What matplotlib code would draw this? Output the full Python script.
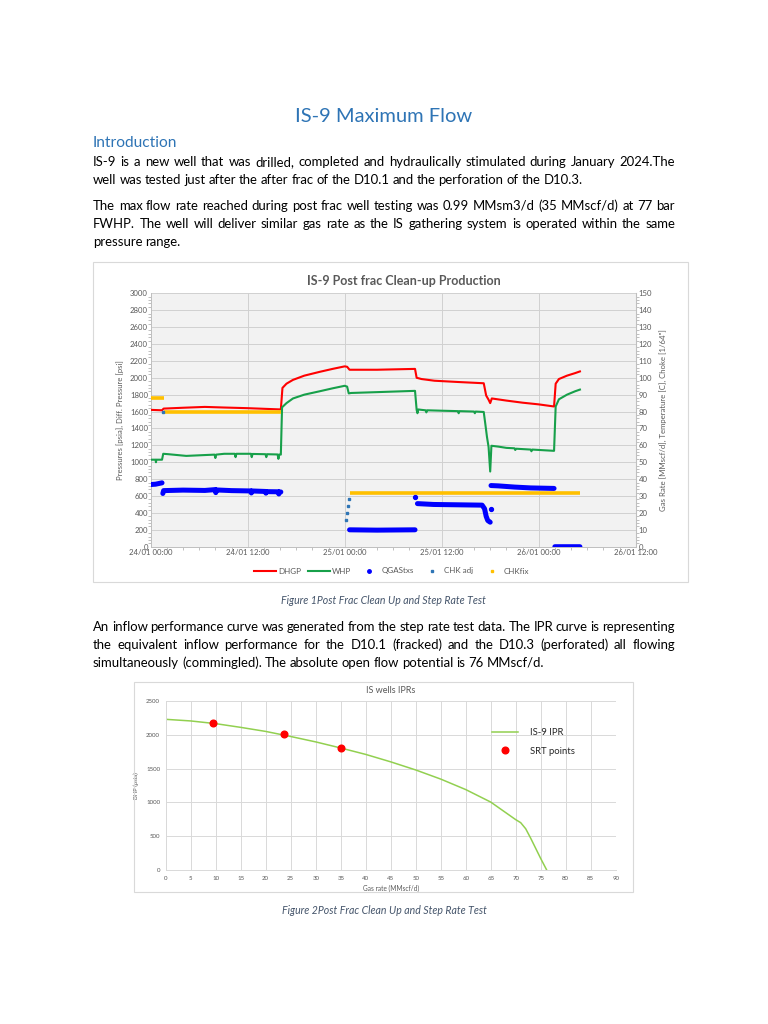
import numpy as np
import matplotlib
matplotlib.use("Agg")
import matplotlib.pyplot as plt
from matplotlib.lines import Line2D
from matplotlib.patches import Rectangle

plt.rcParams["font.family"] = ["Lato", "DejaVu Sans"]

W, H = 768, 1024
nan = np.nan

# ---------------- chart 1 data (hours from 24/01 00:00) ----------------
dhgp_t = [0, 1.4, 1.6, 4, 6.7, 9, 12, 16.1, 16.3, 16.8, 17.6, 19, 20.9, 22.5,
          24.0, 24.3, 24.6, 28, 32.7, 32.9, 33.5, 35.1, 38, 41.2, 41.5, 41.8,
          42.0, 42.2, 44, 46, 48, 49.9, 50.1, 50.5, 51.5, 52.5, 53.1]
dhgp_v = [1620, 1615, 1635, 1645, 1655, 1648, 1640, 1625, 1880, 1930, 1975,
          2025, 2070, 2105, 2135, 2130, 2095, 2095, 2105, 2000, 1985, 1965,
          1950, 1935, 1790, 1740, 1700, 1755, 1730, 1705, 1685, 1660, 1930,
          1985, 2025, 2055, 2075]

whp_t = [0, 0.6, 0.65, 0.7, 1.4, 1.55, 2.2, 4.4, 6.7, 7.9, 8.0, 8.1, 9.1,
         10.4, 10.5, 10.6, 12.4, 12.5, 12.6, 14.2, 14.3, 14.4, 15.7, 15.8,
         15.9, 16.1, 16.25, 16.8, 17.6, 19, 20.9, 22.5, 24.0, 24.3, 24.5, 24.8,
         28, 32.7, 32.9, 33.0, 33.1, 33.5, 34, 34.1, 34.2, 36, 38, 38.1, 38.2,
         40, 40.1, 40.2, 41.2, 41.4, 41.6, 41.8, 42.0, 42.15, 43, 44, 45, 45.1,
         45.2, 47, 47.1, 47.2, 49.9, 50.1, 50.5, 51.5, 52.5, 53.1]
whp_v = [1030, 1030, 1000, 1030, 1030, 1100, 1095, 1075, 1085, 1090, 1050,
         1090, 1100, 1100, 1060, 1100, 1100, 1060, 1098, 1095, 1060, 1095,
         1092, 1040, 1092, 1090, 1650, 1700, 1755, 1800, 1840, 1875, 1905,
         1895, 1815, 1820, 1830, 1845, 1620, 1580, 1625, 1620, 1615, 1590,
         1615, 1610, 1605, 1580, 1605, 1600, 1580, 1600, 1595, 1450, 1300,
         1180, 890, 1195, 1185, 1170, 1165, 1145, 1160, 1150, 1130, 1150,
         1135, 1660, 1745, 1800, 1840, 1860]

qgas_t = [0, 0.6, 1.4, nan,
          1.5, 1.6, 4, 6.7, 8.0, 8.05, 8.1, 10, 12.4, 12.45, 12.5, 14.2, 14.25,
          14.3, 15.8, 15.85, 15.9, 16.1, nan,
          24.6, 28, 32.7, nan,
          33.0, 35, 38, 41.0, 41.3, 41.5, 41.7, 42.0, nan,
          42.1, 43, 45, 47, 49.9, nan,
          50.0, 53.1]
qgas_v = [36.8, 37.0, 37.8, nan,
          31.5, 33.2, 33.5, 33.3, 33.8, 32.0, 33.6, 33.2, 33.0, 31.8, 33.0,
          32.7, 31.7, 32.6, 32.5, 31.2, 32.4, 32.4, nan,
          10, 9.8, 10, nan,
          25.5, 25.0, 24.8, 24.6, 22.5, 18, 15.5, 14.5, nan,
          36.2, 36.0, 35.3, 34.8, 34.5, nan,
          0, 0]
qgas_pts_t = [32.75, 42.05]
qgas_pts_v = [29.7, 22.5]

chkadj_t = [1.5, 24.55, 24.45, 24.3, 24.2]
chkadj_v = [80, 28, 24, 20, 16]

chkfix_t = [0, 1.6, nan, 1.6, 16.1, nan, 24.6, 53.1]
chkfix_v = [88, 88, nan, 80, 80, nan, 32, 32]

time_ticks = [0, 12, 24, 36, 48, 60]
time_labels = ["24/01 00:00", "24/01 12:00", "25/01 00:00", "25/01 12:00",
               "26/01 00:00", "26/01 12:00"]

# ---------------- chart 2 data ----------------
ipr_q = [0, 5, 10, 15, 20, 25, 30, 35, 40, 45, 50, 55, 60, 65, 70, 71, 72,
         73, 74, 75, 76.2]
ipr_p = [2229, 2205, 2165, 2110, 2050, 1975, 1895, 1805, 1710, 1600, 1480,
         1345, 1190, 1005, 745, 700, 610, 470, 320, 170, 0]
srt_q = [9.5, 23.75, 35]
srt_p = [2170, 2005, 1805]

# ---------------- page text ----------------
para1 = ["IS-9 is a new well that was drilled, completed and hydraulically stimulated during January 2024.The",
         "well was tested just after the after frac of the D10.1 and the perforation of the D10.3."]
para2 = ["The max flow rate reached during post frac well testing was 0.99 MMsm3/d (35 MMscf/d) at 77 bar",
         "FWHP. The well will deliver similar gas rate as the IS gathering system is operated within the same",
         "pressure range."]
para3 = ["An inflow performance curve was generated from the step rate test data. The IPR curve is representing",
         "the equivalent inflow performance for the D10.1 (fracked) and the D10.3 (perforated) all flowing",
         "simultaneously (commingled). The absolute open flow potential is 76 MMscf/d."]

fig = plt.figure(figsize=(W / 100, H / 100), dpi=100)
fig.patch.set_facecolor("white")


def fx(x):
    return x / W


def fy(y):
    return 1 - y / H


def justify(lines, y0, dy, x0=93, x1=675, size=9.45):
    # one text per word so the line can be stretched to both margins
    r = fig.canvas.get_renderer()
    for i, line in enumerate(lines):
        y = y0 + i * dy + 3.8
        last = i == len(lines) - 1
        words = line.split()
        s = size
        while True:
            ts = [fig.text(0, fy(y), w, fontsize=s, va="baseline", ha="left",
                           color="black") for w in words]
            ws = [t.get_window_extent(r).width for t in ts]
            gap = (x1 - x0 - sum(ws)) / max(len(words) - 1, 1)
            if last or gap >= 2.2:
                break
            for t in ts:
                t.remove()
            s -= 0.1
        if last:
            gap = s * 0.32
        x = x0
        for t, w in zip(ts, ws):
            t.set_x(fx(x))
            x += w + gap


fig.text(fx(384), fy(116), "IS-9 Maximum Flow", fontsize=14.5, color="#2E74B5",
         ha="center", va="center")
fig.text(fx(93), fy(143), "Introduction", fontsize=11.2, color="#2E74B5",
         ha="left", va="center")
justify(para1, 162, 18)
justify(para2, 206, 18)
justify(para3, 627, 18)

fig.text(fx(383), fy(601), "Figure 1Post Frac Clean Up and Step Rate Test",
         fontsize=7.6, color="#44546A", style="italic", ha="center", va="center")
fig.text(fx(384), fy(910), "Figure 2Post Frac Clean Up and Step Rate Test",
         fontsize=7.6, color="#44546A", style="italic", ha="center", va="center")

# chart frames
for (x0, y0, x1, y1) in [(93, 262, 688, 582), (134, 682, 633, 892)]:
    fig.add_artist(Rectangle((fx(x0), fy(y1)), fx(x1 - x0), (y1 - y0) / H,
                             transform=fig.transFigure, fill=False,
                             ec="#D9D9D9", lw=0.8))

# ---------------- chart 1 ----------------
tick_c = "#595959"
ax = fig.add_axes([fx(150.7), fy(546.7), fx(485), 253.4 / H])
ax.set_facecolor("#F2F2F2")
ax.set_xlim(0, 60)
ax.set_ylim(0, 3000)
ax.set_xticks(time_ticks)
ax.set_xticklabels(time_labels)
ax.set_xticks(np.arange(0, 61, 2), minor=True)
ax.set_yticks(np.arange(0, 3001, 200))
ax.set_yticks(np.arange(0, 3001, 40), minor=True)
ax.grid(True, which="major", color="#D0D0D0", lw=0.7)
ax.set_axisbelow(True)
ax.tick_params(which="both", colors="#A6A6A6", labelcolor=tick_c,
               labelsize=5.6, length=2, width=0.5, pad=2)
ax.tick_params(which="major", length=0)
for s in ax.spines.values():
    s.set_color("#BFBFBF")
    s.set_linewidth(0.7)
ax.spines["top"].set_visible(False)
ax.set_ylabel("Pressures [psia], Diff. Pressure [psi]", fontsize=5.6,
              color=tick_c, labelpad=4)

ax.plot(dhgp_t, dhgp_v, color="#FF0000", lw=1.5, zorder=4)
ax.plot(whp_t, whp_v, color="#17A04A", lw=1.5, zorder=4)

ax2 = ax.twinx()
ax2.set_ylim(0, 150)
ax2.set_yticks(np.arange(0, 151, 10))
ax2.set_yticks(np.arange(0, 151, 2), minor=True)
ax2.tick_params(which="both", colors="#A6A6A6", labelcolor=tick_c,
                labelsize=5.6, length=2, width=0.5, pad=2)
ax2.tick_params(which="major", length=0)
for s in ax2.spines.values():
    s.set_visible(False)
ax2.spines["right"].set_visible(True)
ax2.spines["right"].set_color("#BFBFBF")
ax2.set_ylabel('Gas Rate [MMscf/d], Temperature [C], Choke [1/64"]',
               fontsize=5.6, color=tick_c, labelpad=5)

ax2.plot(chkfix_t, chkfix_v, color="#FFC000", lw=2.6, solid_capstyle="butt",
         zorder=3)
ax2.plot(qgas_t, qgas_v, color="#0000FF", lw=3.6, solid_capstyle="round",
         zorder=5)
ax2.plot(qgas_pts_t, qgas_pts_v, "o", color="#0000FF", ms=2.8, zorder=5)
ax2.plot(chkadj_t, chkadj_v, "s", color="#2E75B6", ms=1.8, zorder=6)

fig.text(fx(404), fy(281), "IS-9 Post frac Clean-up Production", fontsize=9,
         fontweight="bold", color="#595959", ha="center", va="center")

handles = [Line2D([], [], color="#FF0000", lw=1.5),
           Line2D([], [], color="#17A04A", lw=1.5),
           Line2D([], [], ls="", marker="o", color="#0000FF", ms=2.5),
           Line2D([], [], ls="", marker="s", color="#2E75B6", ms=1.8),
           Line2D([], [], ls="", marker="s", color="#FFC000", ms=1.8)]
fig.legend(handles, ["DHGP", "WHP", "QGAStxs", "CHK adj", "CHKfix"],
           loc="center", bbox_to_anchor=(fx(392), fy(571)), ncol=5,
           frameon=False, fontsize=5.8, handlelength=2.7, columnspacing=0.9,
           handletextpad=0.2, labelcolor=tick_c)

# ---------------- chart 2 ----------------
bx = fig.add_axes([fx(165.7), fy(870), fx(450), 169 / H])
bx.set_xlim(0, 90)
bx.set_ylim(0, 2500)
bx.set_xticks(np.arange(0, 91, 5))
bx.set_yticks(np.arange(0, 2501, 500))
bx.grid(True, color="#D9D9D9", lw=0.7)
bx.set_axisbelow(True)
bx.tick_params(length=0, labelsize=4.4, labelcolor=tick_c, pad=4)
for s in ["top", "right"]:
    bx.spines[s].set_visible(False)
for s in ["left", "bottom"]:
    bx.spines[s].set_color("#D9D9D9")
    bx.spines[s].set_linewidth(0.7)
bx.set_xlabel("Gas rate (MMscf/d)", fontsize=4.7, color=tick_c, labelpad=3)
bx.set_ylabel("BHP (psia)", fontsize=4.3, color=tick_c, labelpad=5)
bx.set_title("IS wells IPRs", fontsize=6.5, color=tick_c, pad=6)

l1, = bx.plot(ipr_q, ipr_p, color="#92D050", lw=1.1, label="IS-9 IPR")
l2, = bx.plot(srt_q, srt_p, "o", color="#FF0000", ms=4.8, label="SRT points",
              zorder=5)
bx.legend(handles=[l1, l2], loc="center left",
          bbox_to_anchor=(fx(483), fy(742)), bbox_transform=fig.transFigure,
          frameon=False, fontsize=6.8, handlelength=2.8, handletextpad=1.3,
          labelspacing=1.0, labelcolor="#262626")

fig.savefig("out.png", dpi=100)
